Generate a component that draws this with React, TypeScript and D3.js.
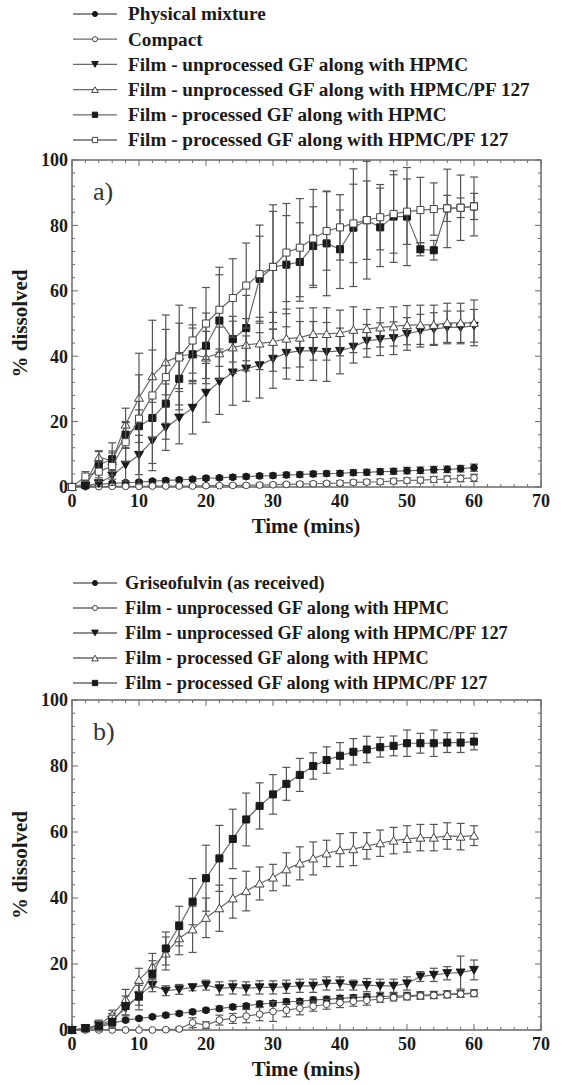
import React from "react";
import * as d3 from "d3";

// sampling times (mins)
const times = [0, 2, 4, 6, 8, 10, 12, 14, 16, 18, 20, 22, 24, 26, 28, 30, 32, 34, 36, 38, 40, 42, 44, 46, 48, 50, 52, 54, 56, 58, 60];

// panel a) values (% dissolved)
const physicalMixA = [0, 0.4, 0.9, 1.1, 1.3, 1.5, 1.8, 2.0, 2.2, 2.4, 2.7, 2.8, 3.0, 3.2, 3.4, 3.5, 3.7, 3.8, 4.0, 4.1, 4.2, 4.4, 4.5, 4.7, 4.8, 5.0, 5.1, 5.3, 5.4, 5.6, 5.9];
const physicalMixAErr = [0, 0.3, 0.4, 0.5, 0.5, 0.5, 0.5, 0.6, 0.6, 0.6, 0.6, 0.6, 0.7, 0.7, 0.7, 0.7, 0.8, 0.8, 0.8, 0.8, 0.8, 0.9, 0.9, 0.9, 0.9, 1.0, 1.0, 1.0, 1.0, 1.0, 1.1];
const compactA = [0, 0.1, 0.1, 0.2, 0.2, 0.2, 0.3, 0.3, 0.3, 0.3, 0.4, 0.4, 0.5, 0.5, 0.6, 0.7, 0.8, 0.9, 1.0, 1.1, 1.2, 1.4, 1.5, 1.6, 1.8, 2.0, 2.1, 2.3, 2.4, 2.6, 2.8];
const compactAErr = [0, 0.2, 0.2, 0.2, 0.3, 0.3, 0.3, 0.3, 0.3, 0.3, 0.4, 0.4, 0.4, 0.4, 0.5, 0.5, 0.5, 0.6, 0.6, 0.6, 0.7, 0.7, 0.7, 0.8, 0.8, 0.8, 0.9, 0.9, 1.0, 1.0, 1.1];
const unprocHpmcA = [0, 0.3, 1.1, 3.5, 6.8, 9.8, 14.2, 18.2, 21.2, 24.2, 28.8, 32.2, 35.0, 36.2, 37.2, 39.2, 41.0, 41.6, 41.6, 41.3, 41.6, 42.9, 44.7, 45.2, 45.5, 46.8, 47.8, 48.3, 48.8, 48.8, 49.3];
const unprocHpmcAErr = [0, 0.5, 1, 3, 5, 6, 7, 7, 8, 8, 9, 10, 10, 10, 10, 9, 8, 9, 9, 9, 7, 5, 5, 5, 5, 5, 5, 5, 5, 5, 5];
const unprocPfA = [0, 1.0, 9.1, 8.0, 19.1, 27.3, 33.9, 38.2, 40.1, 40.6, 39.6, 40.9, 42.7, 43.5, 43.9, 44.4, 45.4, 45.7, 46.8, 46.8, 47.1, 48.1, 48.3, 48.8, 49.1, 49.5, 49.6, 49.6, 50.2, 50.2, 50.2];
const unprocPfAErr = [0, 1, 2, 3, 5, 7, 8, 10, 10, 9, 8, 8, 8, 8, 8, 9, 9, 9, 8, 8, 7, 7, 6, 6, 6, 6, 6, 6, 6, 6, 7];
const procHpmcA = [0, 0.6, 6.8, 8.5, 16.0, 18.6, 21.1, 25.5, 33.1, 40.6, 43.2, 50.9, 45.2, 48.6, 63.7, 67.3, 68.0, 68.8, 73.7, 74.5, 72.7, 79.3, 81.6, 79.4, 82.7, 82.7, 72.7, 72.4, 85.2, 85.4, 85.8];
const procHpmcAErr = [0, 1, 4, 5, 4, 5, 6, 6, 8, 8, 10, 14, 7, 10, 13, 17, 15, 12, 12, 16, 12, 18, 18, 12, 14, 15, 2, 3, 4, 3, 4];
const procPfA = [0, 3.2, 4.7, 6.4, 13.7, 20.9, 28.0, 33.6, 39.6, 44.8, 50.0, 54.2, 57.8, 61.6, 65.1, 67.3, 71.7, 73.2, 76.0, 78.3, 79.4, 80.6, 81.6, 82.5, 83.5, 84.2, 84.7, 85.0, 85.2, 85.4, 85.8];
const procPfAErr = [0, 1.5, 3, 4, 6, 20, 23, 19, 16, 10, 11, 13, 12, 13, 15, 19, 15, 15, 15, 12, 10, 12, 12, 10, 12, 10, 10, 8, 12, 10, 9];

// panel b) values (% dissolved)
const grisB = [0, 0.3, 0.8, 2.0, 3.0, 3.5, 4.0, 4.5, 5.0, 5.5, 6.0, 6.5, 7.0, 7.3, 7.9, 8.1, 8.6, 8.7, 9.1, 9.3, 9.6, 9.8, 10.0, 10.1, 10.3, 10.4, 10.6, 10.7, 10.9, 11.0, 11.2];
const grisBErr = [0, 0.3, 0.4, 0.5, 0.5, 0.5, 0.5, 0.6, 0.6, 0.6, 0.6, 0.7, 0.7, 0.7, 0.8, 0.8, 0.8, 0.8, 0.9, 0.9, 0.9, 0.9, 1.0, 1.0, 1.0, 1.0, 1.0, 1.0, 1.0, 1.0, 1.0];
const unprocHpmcB = [0, 0, 0, 0, 0, 0, 0, 0.1, 0.3, 2.2, 1.5, 3.0, 3.5, 4.2, 4.8, 5.6, 6.0, 6.6, 7.2, 7.8, 8.3, 8.7, 9.0, 9.4, 9.8, 10.1, 10.3, 10.5, 10.7, 10.9, 11.1];
const unprocHpmcBErr = [0, 0, 0, 0, 0, 0, 0, 0.3, 0.5, 1.5, 1, 1.5, 1.5, 2, 2, 3, 2, 2, 1.5, 1.5, 1.5, 1.5, 1.5, 1, 1, 1, 1, 1, 1, 1, 1];
const unprocPfB = [0, 0.5, 1.5, 3.0, 6.6, 10.5, 13.6, 11.9, 12.3, 12.9, 13.6, 12.6, 12.9, 12.6, 12.9, 12.9, 13.1, 13.4, 13.4, 14.1, 14.1, 13.6, 13.6, 13.4, 13.4, 14.1, 16.2, 16.7, 17.2, 17.4, 18.2];
const unprocPfBErr = [0, 0.5, 1.5, 2, 2, 3, 2, 1.5, 1.5, 1, 1.5, 2, 2, 2, 2, 2, 2, 2, 2, 2, 2, 1.5, 2, 2, 2, 2, 1.5, 2, 2, 5, 3];
const procHpmcB = [0, 0.5, 1.5, 4.5, 9.3, 15.2, 19.2, 23.2, 27.8, 30.5, 34.0, 36.9, 39.9, 42.1, 44.4, 46.2, 48.7, 50.5, 52.0, 53.5, 54.5, 54.8, 55.8, 56.6, 57.4, 57.9, 58.3, 58.3, 58.8, 58.6, 58.9];
const procHpmcBErr = [0, 0.5, 1, 1.5, 3, 3.5, 4, 5, 5, 7, 6, 7, 6, 6, 5, 4, 5, 5, 5, 4, 5, 5, 4, 4, 4, 4, 4, 4, 4, 4, 3];
const procPfB = [0, 0.6, 1.2, 2.5, 7.3, 10.1, 17.0, 24.7, 31.5, 38.9, 46.0, 52.0, 57.9, 63.8, 67.9, 71.4, 74.6, 77.3, 80.0, 81.8, 83.1, 84.3, 85.0, 85.7, 86.1, 86.9, 86.9, 86.9, 87.1, 87.1, 87.4];
const procPfBErr = [0, 0.5, 1.5, 2, 3, 4, 4, 5, 6, 7, 10, 10, 9, 8, 7, 6, 5, 5, 4, 4, 4, 4, 4, 3, 3, 4, 3, 4, 3, 3, 2.5];

const xTicks = [0, 10, 20, 30, 40, 50, 60, 70];
const yTicks = [0, 20, 40, 60, 80, 100];

type Marker = "circle" | "square" | "triDown" | "triUp";
interface Series {
  name: string;
  values: number[];
  errors: number[];
  marker: Marker;
  filled: boolean;
}

const seriesA: Series[] = [
  { name: "Physical mixture", values: physicalMixA, errors: physicalMixAErr, marker: "circle", filled: true },
  { name: "Compact", values: compactA, errors: compactAErr, marker: "circle", filled: false },
  { name: "Film - unprocessed GF along with HPMC", values: unprocHpmcA, errors: unprocHpmcAErr, marker: "triDown", filled: true },
  { name: "Film - unprocessed GF along with HPMC/PF 127", values: unprocPfA, errors: unprocPfAErr, marker: "triUp", filled: false },
  { name: "Film - processed GF along with HPMC", values: procHpmcA, errors: procHpmcAErr, marker: "square", filled: true },
  { name: "Film - processed GF along with HPMC/PF 127", values: procPfA, errors: procPfAErr, marker: "square", filled: false },
];

const seriesB: Series[] = [
  { name: "Griseofulvin (as received)", values: grisB, errors: grisBErr, marker: "circle", filled: true },
  { name: "Film - unprocessed GF along with HPMC", values: unprocHpmcB, errors: unprocHpmcBErr, marker: "circle", filled: false },
  { name: "Film - unprocessed GF along with HPMC/PF 127", values: unprocPfB, errors: unprocPfBErr, marker: "triDown", filled: true },
  { name: "Film - processed GF along with HPMC", values: procHpmcB, errors: procHpmcBErr, marker: "triUp", filled: false },
  { name: "Film - processed GF along with HPMC/PF 127", values: procPfB, errors: procPfBErr, marker: "square", filled: true },
];

const FONT = "'Liberation Serif', 'Times New Roman', serif";
const INK = "#1a1a1a";
const GREY = "#6a6a6a";

function symbolPath(marker: Marker, scale = 1) {
  const sizes: Record<Marker, number> = { circle: 36, square: 50, triDown: 34, triUp: 34 };
  const type = marker === "circle" ? d3.symbolCircle : marker === "square" ? d3.symbolSquare : d3.symbolTriangle;
  return d3.symbol().type(type).size(sizes[marker] * scale * scale)() as string;
}

function MarkerMark({ s, x, y, scale = 1 }: { s: Series; x: number; y: number; scale?: number }) {
  const rot = s.marker === "triDown" ? 180 : 0;
  const dy = s.marker === "triDown" ? -1 : s.marker === "triUp" ? 1 : 0;
  return (
    <path
      d={symbolPath(s.marker, scale)}
      transform={`translate(${x},${y + dy}) rotate(${rot})`}
      fill={s.filled ? INK : "#fff"}
      stroke={s.filled ? INK : "#444"}
      strokeWidth={1}
    />
  );
}

interface PanelProps {
  series: Series[];
  y0: number; // pixel of 0 %
  y100: number; // pixel of 100 %
  tag: string;
  legendTop: number;
  legendTextX: number;
  legendGap: number;
  legendFont: number;
}

function Panel({ series, y0, y100, tag, legendTop, legendTextX, legendGap, legendFont }: PanelProps) {
  const x = d3.scaleLinear().domain([0, 70]).range([72, 541]);
  const y = d3.scaleLinear().domain([0, 100]).range([y0, y100]);
  const line = d3
    .line<number>()
    .x((_, i) => x(times[i]))
    .y((v) => y(v));

  const xMinor = d3.range(0, 71, 2);
  const yMinor = d3.range(0, 101, 4);
  const [xl, xr] = x.range();
  const cap = 4;

  return (
    <g>
      {/* legend */}
      {series.map((s, i) => {
        const ly = legendTop + i * legendGap;
        return (
          <g key={"lg" + i}>
            <line x1={73} x2={117} y1={ly} y2={ly} stroke={GREY} strokeWidth={1.3} />
            <MarkerMark s={s} x={95} y={ly} scale={0.75} />
            <text x={legendTextX} y={ly} dy="0.33em" fontSize={legendFont} fontWeight="bold" fontFamily={FONT} fill={INK}>
              {s.name}
            </text>
          </g>
        );
      })}

      {/* frame ticks */}
      {xMinor.map((t) => {
        const len = t % 10 === 0 ? 6 : 3;
        return (
          <g key={"xt" + t}>
            <line x1={x(t)} x2={x(t)} y1={y0} y2={y0 - len} stroke={GREY} strokeWidth={1} />
            <line x1={x(t)} x2={x(t)} y1={y100} y2={y100 + len} stroke={GREY} strokeWidth={1} />
          </g>
        );
      })}
      {yMinor.map((v) => {
        const len = v % 20 === 0 ? 6 : 3;
        return (
          <g key={"yt" + v}>
            <line x1={xl} x2={xl + len} y1={y(v)} y2={y(v)} stroke={GREY} strokeWidth={1} />
            <line x1={xr} x2={xr - len} y1={y(v)} y2={y(v)} stroke={GREY} strokeWidth={1} />
          </g>
        );
      })}
      <rect x={xl} y={y100} width={xr - xl} height={y0 - y100} fill="none" stroke={GREY} strokeWidth={1.5} />

      {/* tick labels */}
      {xTicks.map((t) => (
        <text key={"xl" + t} x={x(t)} y={y0 + 14} dy="0.35em" textAnchor="middle" fontSize={18} fontWeight="bold" fontFamily={FONT} fill={INK}>
          {t}
        </text>
      ))}
      {yTicks.map((v) => (
        <text key={"yl" + v} x={xl - 4} y={y(v)} dy="0.35em" textAnchor="end" fontSize={18} fontWeight="bold" fontFamily={FONT} fill={INK}>
          {v}
        </text>
      ))}
      <text x={306} y={y0 + 39} dy="0.35em" textAnchor="middle" fontSize={21} fontWeight="bold" fontFamily={FONT} fill={INK}>
        Time (mins)
      </text>
      <text
        transform={`translate(20,${(y0 + y100) / 2}) rotate(-90)`}
        dy="0.35em"
        textAnchor="middle"
        fontSize={21}
        fontWeight="bold"
        fontFamily={FONT}
        fill={INK}
      >
        % dissolved
      </text>
      <text x={93} y={y(90.5)} dy="0.35em" fontSize={26} fontFamily={FONT} fill="#333">
        {tag}
      </text>

      {/* data */}
      {series.map((s, si) => (
        <g key={"s" + si}>
          <path d={line(s.values) as string} fill="none" stroke={GREY} strokeWidth={1.2} />
          {s.values.map((v, i) =>
            s.errors[i] > 0 ? (
              <g key={"e" + i} stroke="#555" strokeWidth={1.2}>
                <line x1={x(times[i])} x2={x(times[i])} y1={y(v - s.errors[i])} y2={y(v + s.errors[i])} />
                <line x1={x(times[i]) - cap} x2={x(times[i]) + cap} y1={y(v + s.errors[i])} y2={y(v + s.errors[i])} />
                <line x1={x(times[i]) - cap} x2={x(times[i]) + cap} y1={y(v - s.errors[i])} y2={y(v - s.errors[i])} />
              </g>
            ) : null
          )}
          {s.values.map((v, i) => (
            <MarkerMark key={"m" + i} s={s} x={x(times[i])} y={y(v)} />
          ))}
        </g>
      ))}
    </g>
  );
}

export default function App() {
  return (
    <svg width={586} height={1085} style={{ position: "absolute", left: 0, top: 0, background: "#fff" }}>
      <rect width={586} height={1085} fill="#fff" />
      <Panel series={seriesA} y0={487} y100={160} tag="a)" legendTop={14} legendTextX={128} legendGap={25.2} legendFont={19.2} />
      <Panel series={seriesB} y0={1030} y100={700} tag="b)" legendTop={583} legendTextX={125} legendGap={25} legendFont={18.3} />
    </svg>
  );
}
